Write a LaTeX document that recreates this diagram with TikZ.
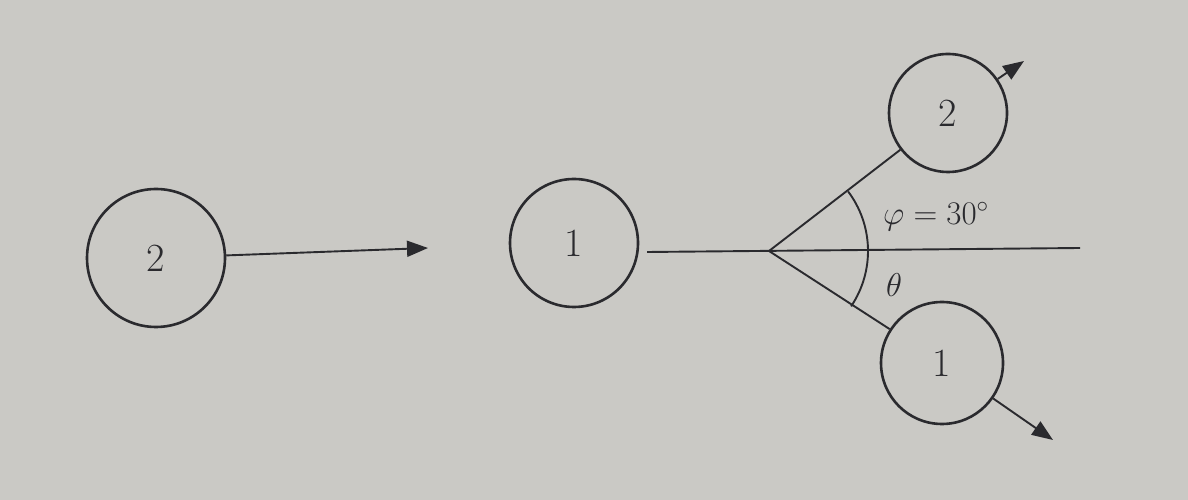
\RequirePackage{fix-cm}
\documentclass[tikz,border=0pt]{standalone}
\usetikzlibrary{arrows.meta}
\definecolor{paper}{RGB}{202,201,197}
\definecolor{ink}{RGB}{42,42,46}
\begin{document}
\begin{tikzpicture}[x=1pt,y=1pt,
  ball/.style={circle,draw=ink,line width=2.6pt,inner sep=0pt,text=ink,font=\fontsize{40}{46}\selectfont},
  conn/.style={draw=ink,line width=1.9pt},
  arr/.style={conn,-{Triangle[length=21pt,width=16pt]}},
  lbl/.style={text=ink,font=\fontsize{33}{39}\selectfont}]
\fill[paper] (0,0) rectangle (1188,500);
\useasboundingbox (0,0) rectangle (1188,500);
% nodes
\node[ball,minimum size=138pt] (inA) at (156,242) {2};
\node[ball,minimum size=128pt] (tgt) at (574,257) {1};
\node[ball,minimum size=118pt] (outB) at (948,387) {2};
\node[ball,minimum size=122pt] (outT) at (942,137) {1};
% coordinates
\coordinate (tip0) at (428,252);
\coordinate (hs) at (647,248);
\coordinate (he) at (1080,252);
\coordinate (v) at (769,249);
\coordinate (tipA) at (1024,439);
\coordinate (tipB) at (1053,60);
% connectors
\draw[arr] (inA) -- (tip0);
\draw[conn] (hs) -- (he);
\draw[conn] (v) -- (outB);
\draw[conn] (v) -- (outT);
\draw[arr] (outB) -- (tipA);
\draw[arr] (outT) -- (tipB);
\draw[conn] ([shift={(37:99)}]v) arc[start angle=37,end angle=-34,radius=99];
% labels
\node[lbl] (phi) at (936,283) {$\varphi = 30^\circ$};
\node[lbl] (th) at (894,215) {$\theta$};
\end{tikzpicture}
\end{document}
